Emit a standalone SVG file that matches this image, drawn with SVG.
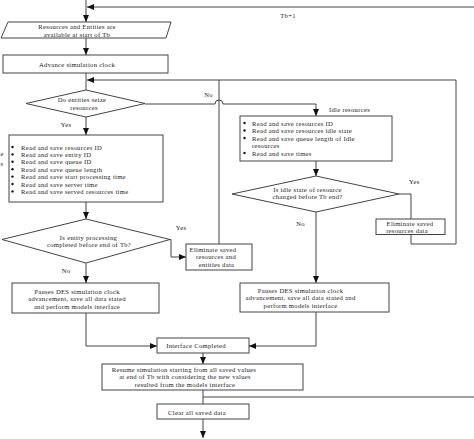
<svg xmlns="http://www.w3.org/2000/svg" width="474" height="439" viewBox="0 0 474 439">
<defs>
<marker id="arr" markerUnits="userSpaceOnUse" markerWidth="7" markerHeight="6" refX="7" refY="3" orient="auto">
<path d="M0,0 L7,3 L0,6 z" fill="#111"/>
</marker>
<style>
text{font-family:"Liberation Serif","Times New Roman",serif;font-size:6.6px;letter-spacing:0.3px;fill:#1a1a1a}
.c{text-anchor:middle}
.box{fill:#fff;stroke:#444;stroke-width:1}
.ln{fill:none;stroke:#444;stroke-width:1}
.a{marker-end:url(#arr)}
</style>
</defs>
<rect width="474" height="439" fill="#fff"/>
<g id="connectors">
<path class="ln a" d="M86,0 V22"/>
<path class="ln a" d="M474,7 H87"/>
<path class="ln a" d="M86,38 V55"/>
<path class="ln" d="M86,73 V90"/>
<path class="ln a" d="M399,194 H411 V244 H456 V80 H87"/>
<path class="ln" d="M219,244 V80"/>
<path class="ln a" d="M86,117 V135"/>
<path class="ln a" d="M145,104 H215 A4,4 0 0 1 223,104 H316 V116"/>
<path class="ln a" d="M316,161 V176"/>
<path class="ln a" d="M86,202 V219"/>
<path class="ln a" d="M170,239.5 H171 V257 H186"/>
<path class="ln a" d="M86,263 V283"/>
<path class="ln a" d="M316,212 V283"/>
<path class="ln a" d="M86,313 V346 H157"/>
<path class="ln a" d="M316,312 V346 H249"/>
<path class="ln a" d="M203,353 V364"/>
<path class="ln" d="M203,390 V404"/>
<path class="ln" d="M203,397 H474"/>
<path class="ln a" d="M203,419 V438"/>
</g>
<g id="labels">
<text class="c" x="288" y="17.5">Tb+1</text>
<text class="c" x="208.5" y="96.5">No</text>
<text class="c" x="66" y="126.5">Yes</text>
<text x="329" y="112">Idle resources</text>
<text x="409" y="183.5">Yes</text>
<text class="c" x="300.5" y="225.5">No</text>
<text class="c" x="181" y="229.5">Yes</text>
<text class="c" x="66" y="273">No</text>
<text x="0.5" y="156">e</text>
<text x="0.5" y="165.5">s</text>
</g>
<g id="start">
<polygon class="box" points="8,22 171,22 166,38 1,38"/>
<text class="c" x="77" y="29">Resources and Entities are</text>
<text class="c" x="77" y="36.5">available at start of Tb</text>
</g>
<g id="advance">
<rect class="box" x="3" y="55" width="165" height="18"/>
<text class="c" x="77" y="66.5">Advance simulation clock</text>
</g>
<g id="seize">
<polygon class="box" points="86,90 145,103.5 86,117 26,103.5"/>
<text class="c" x="82" y="101.5">Do entities seize</text>
<text class="c" x="84" y="109.5">resources</text>
</g>
<g id="busy">
<rect class="box" x="9" y="135" width="154" height="67"/>
<g fill="#111">
<circle cx="12.5" cy="147" r="1.2"/><circle cx="12.5" cy="154.4" r="1.2"/><circle cx="12.5" cy="161.8" r="1.2"/><circle cx="12.5" cy="169.2" r="1.2"/><circle cx="12.5" cy="176.6" r="1.2"/><circle cx="12.5" cy="184" r="1.2"/><circle cx="12.5" cy="191.4" r="1.2"/>
</g>
<text x="21" y="149.5">Read and save resources ID</text>
<text x="21" y="156.9">Read and save entity ID</text>
<text x="21" y="164.3">Read and save queue ID</text>
<text x="21" y="171.7">Read and save queue length</text>
<text x="21" y="179.1">Read and save start processing time</text>
<text x="21" y="186.5">Read and save server time</text>
<text x="21" y="193.9">Read and save served resources time</text>
</g>
<g id="completed">
<polygon class="box" points="86,219 170,239.5 86,263 2,239.5"/>
<text class="c" x="88.5" y="239.5">Is entity processing</text>
<text class="c" x="89" y="247">completed before end of Tb?</text>
</g>
<g id="elim1">
<rect class="box" x="186" y="244" width="66" height="26"/>
<text class="c" x="213" y="251.5">Eliminate saved</text>
<text class="c" x="216" y="259">resources and</text>
<text class="c" x="216.5" y="266.5">entities data</text>
</g>
<g id="pause1">
<rect class="box" x="12" y="283" width="147" height="30"/>
<text class="c" x="77" y="293.5">Pauses DES simulation clock</text>
<text class="c" x="77" y="301">advancement, save all data stated</text>
<text class="c" x="77" y="308.5">and perform models interface</text>
</g>
<g id="idle">
<rect class="box" x="240" y="116" width="152" height="45"/>
<g fill="#111">
<circle cx="244.5" cy="123" r="1.2"/><circle cx="244.5" cy="130.5" r="1.2"/><circle cx="244.5" cy="138" r="1.2"/><circle cx="244.5" cy="153" r="1.2"/>
</g>
<text x="252" y="125.5">Read and save resources ID</text>
<text x="252" y="133">Read and save resources idle state</text>
<text x="252" y="140.5">Read and save queue length of Idle</text>
<text x="252" y="148">resources</text>
<text x="252" y="155.5">Read and save times</text>
</g>
<g id="idlechanged">
<polygon class="box" points="316,176 399,194 316,212 232,194"/>
<text class="c" x="307.5" y="192">Is idle state of resource</text>
<text class="c" x="307.5" y="199.4">changed before Tb end?</text>
</g>
<g id="elim2">
<rect class="box" x="376" y="219" width="69" height="15.5"/>
<text class="c" x="410" y="225.5">Eliminate saved</text>
<text class="c" x="407" y="232.5">resources data</text>
</g>
<g id="pause2">
<rect class="box" x="240" y="283" width="149" height="29"/>
<text class="c" x="300.5" y="292.5">Pauses DES simulation clock</text>
<text class="c" x="300.5" y="300">advancement, save all data stated and</text>
<text class="c" x="300.5" y="307.5">perform models interface</text>
</g>
<g id="interface">
<rect class="box" x="157" y="338" width="92" height="15"/>
<text class="c" x="196" y="347.5">Interface Completed</text>
</g>
<g id="resume">
<rect class="box" x="102" y="364" width="201" height="26"/>
<text class="c" x="184" y="371.5">Resume simulation starting from all saved values</text>
<text class="c" x="185" y="379">at end of Tb with considering the new values</text>
<text class="c" x="185" y="386.5">resulted from the models interface</text>
</g>
<g id="clear">
<rect class="box" x="157" y="404" width="92" height="15"/>
<text class="c" x="197" y="414.5">Clear all saved data</text>
</g>
</svg>
